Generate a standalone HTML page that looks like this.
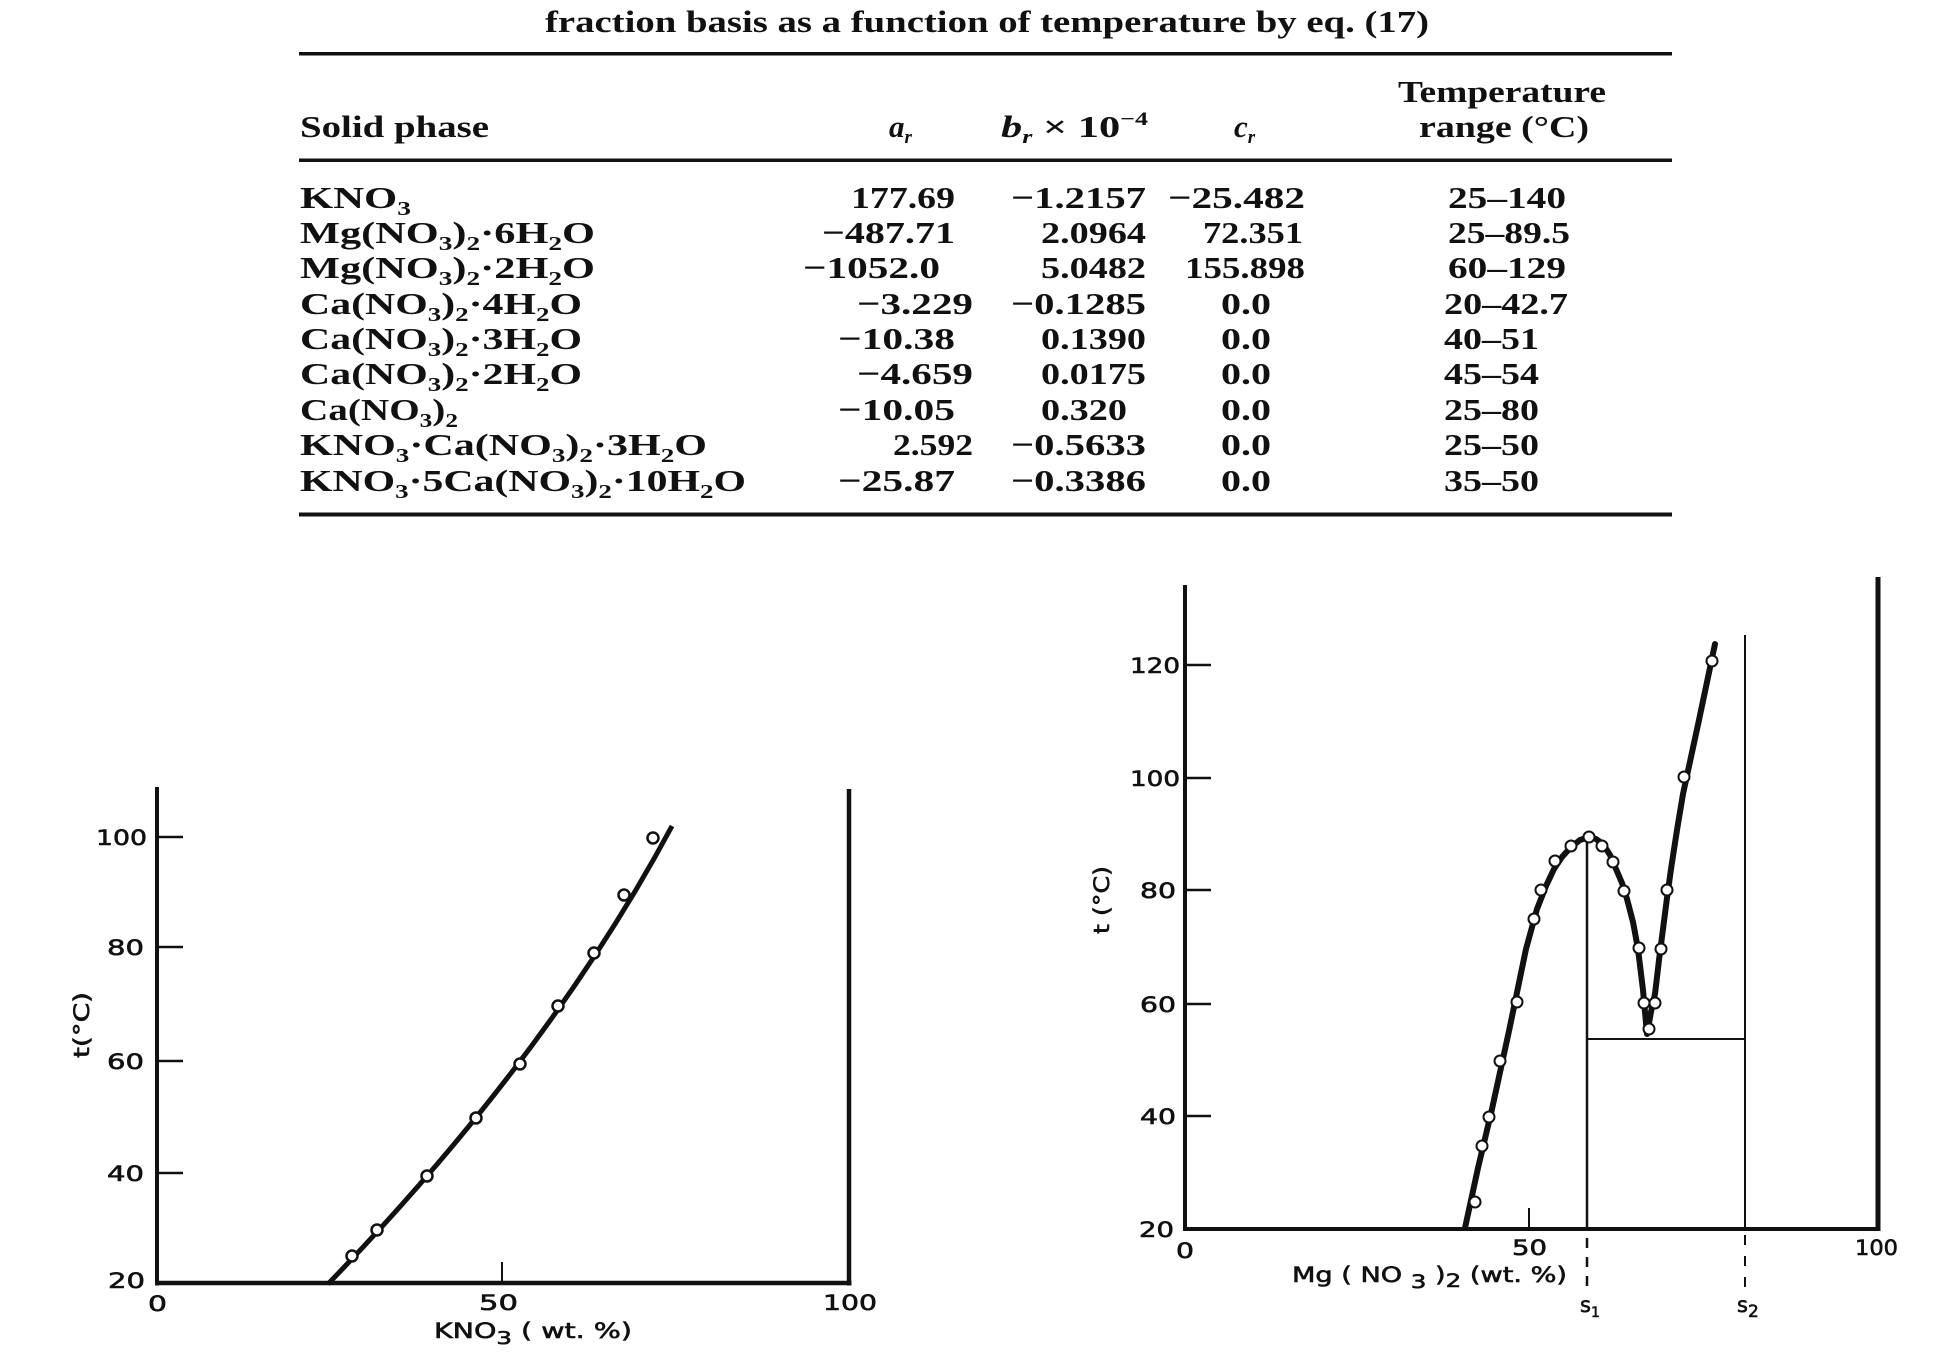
<!DOCTYPE html>
<html>
<head>
<meta charset="utf-8">
<style>
  html,body{margin:0;padding:0;background:#fff;}
  body{width:1945px;height:1352px;overflow:hidden;}
  svg{display:block;}
  .tb{font-family:"Liberation Serif","DejaVu Serif",serif;font-weight:bold;font-size:31px;fill:#111;}
  .ch{font-family:"DejaVu Sans","Liberation Sans",sans-serif;font-size:21px;fill:#111;stroke:#111;stroke-width:0.6;}
</style>
</head>
<body>
<svg width="1945" height="1352" viewBox="0 0 1945 1352" xmlns="http://www.w3.org/2000/svg">
  <rect x="0" y="0" width="1945" height="1352" fill="#fff"/>

  <!-- Title -->
  <text class="tb" x="545" y="32" font-size="28" textLength="884" lengthAdjust="spacingAndGlyphs">fraction basis as a function of temperature by eq. (17)</text>

  <!-- Rules -->
  <rect x="299" y="52" width="1373" height="3.5" fill="#111"/>
  <rect x="299" y="158.5" width="1373" height="3.5" fill="#111"/>
  <rect x="299" y="512.5" width="1373" height="4" fill="#111"/>

  <!-- Header -->
  <text class="tb" x="300" y="137" textLength="189" lengthAdjust="spacingAndGlyphs">Solid phase</text>
  <text class="tb" x="889" y="137" font-style="italic">a<tspan dy="6" font-size="19">r</tspan></text>
  <text class="tb" x="1001" y="137" textLength="147" lengthAdjust="spacingAndGlyphs"><tspan font-style="italic">b</tspan><tspan dy="6" font-size="19" font-style="italic">r</tspan><tspan dy="-6"> × 10</tspan><tspan dy="-12" font-size="19">−4</tspan></text>
  <text class="tb" x="1234" y="137" font-style="italic">c<tspan dy="6" font-size="19">r</tspan></text>
  <text class="tb" x="1398" y="102" textLength="208" lengthAdjust="spacingAndGlyphs">Temperature</text>
  <text class="tb" x="1419" y="137" textLength="170" lengthAdjust="spacingAndGlyphs">range (°C)</text>

  <!-- Rows: solid phase -->
  <text class="tb" x="300" y="208" textLength="111" lengthAdjust="spacingAndGlyphs">KNO<tspan dy="7" font-size="20">3</tspan></text>
  <text class="tb" x="300" y="243" textLength="295" lengthAdjust="spacingAndGlyphs">Mg(NO<tspan dy="7" font-size="20">3</tspan><tspan dy="-7">)</tspan><tspan dy="7" font-size="20">2</tspan><tspan dy="-7">·6H</tspan><tspan dy="7" font-size="20">2</tspan><tspan dy="-7">O</tspan></text>
  <text class="tb" x="300" y="278" textLength="295" lengthAdjust="spacingAndGlyphs">Mg(NO<tspan dy="7" font-size="20">3</tspan><tspan dy="-7">)</tspan><tspan dy="7" font-size="20">2</tspan><tspan dy="-7">·2H</tspan><tspan dy="7" font-size="20">2</tspan><tspan dy="-7">O</tspan></text>
  <text class="tb" x="300" y="314" textLength="282" lengthAdjust="spacingAndGlyphs">Ca(NO<tspan dy="7" font-size="20">3</tspan><tspan dy="-7">)</tspan><tspan dy="7" font-size="20">2</tspan><tspan dy="-7">·4H</tspan><tspan dy="7" font-size="20">2</tspan><tspan dy="-7">O</tspan></text>
  <text class="tb" x="300" y="349" textLength="282" lengthAdjust="spacingAndGlyphs">Ca(NO<tspan dy="7" font-size="20">3</tspan><tspan dy="-7">)</tspan><tspan dy="7" font-size="20">2</tspan><tspan dy="-7">·3H</tspan><tspan dy="7" font-size="20">2</tspan><tspan dy="-7">O</tspan></text>
  <text class="tb" x="300" y="384" textLength="282" lengthAdjust="spacingAndGlyphs">Ca(NO<tspan dy="7" font-size="20">3</tspan><tspan dy="-7">)</tspan><tspan dy="7" font-size="20">2</tspan><tspan dy="-7">·2H</tspan><tspan dy="7" font-size="20">2</tspan><tspan dy="-7">O</tspan></text>
  <text class="tb" x="300" y="420" textLength="158" lengthAdjust="spacingAndGlyphs">Ca(NO<tspan dy="7" font-size="20">3</tspan><tspan dy="-7">)</tspan><tspan dy="7" font-size="20">2</tspan></text>
  <text class="tb" x="300" y="455" textLength="407" lengthAdjust="spacingAndGlyphs">KNO<tspan dy="7" font-size="20">3</tspan><tspan dy="-7">·Ca(NO</tspan><tspan dy="7" font-size="20">3</tspan><tspan dy="-7">)</tspan><tspan dy="7" font-size="20">2</tspan><tspan dy="-7">·3H</tspan><tspan dy="7" font-size="20">2</tspan><tspan dy="-7">O</tspan></text>
  <text class="tb" x="300" y="491" textLength="446" lengthAdjust="spacingAndGlyphs">KNO<tspan dy="7" font-size="20">3</tspan><tspan dy="-7">·5Ca(NO</tspan><tspan dy="7" font-size="20">3</tspan><tspan dy="-7">)</tspan><tspan dy="7" font-size="20">2</tspan><tspan dy="-7">·10H</tspan><tspan dy="7" font-size="20">2</tspan><tspan dy="-7">O</tspan></text>

  <!-- a_r column -->
  <text class="tb" x="851" y="208" textLength="104" lengthAdjust="spacingAndGlyphs">177.69</text>
  <text class="tb" x="822" y="243" textLength="133" lengthAdjust="spacingAndGlyphs">−487.71</text>
  <text class="tb" x="803" y="278" textLength="137" lengthAdjust="spacingAndGlyphs">−1052.0</text>
  <text class="tb" x="857" y="314" textLength="116" lengthAdjust="spacingAndGlyphs">−3.229</text>
  <text class="tb" x="838" y="349" textLength="117" lengthAdjust="spacingAndGlyphs">−10.38</text>
  <text class="tb" x="857" y="384" textLength="116" lengthAdjust="spacingAndGlyphs">−4.659</text>
  <text class="tb" x="838" y="420" textLength="117" lengthAdjust="spacingAndGlyphs">−10.05</text>
  <text class="tb" x="893" y="455" textLength="80" lengthAdjust="spacingAndGlyphs">2.592</text>
  <text class="tb" x="838" y="491" textLength="117" lengthAdjust="spacingAndGlyphs">−25.87</text>

  <!-- b_r column -->
  <text class="tb" x="1011" y="208" textLength="135" lengthAdjust="spacingAndGlyphs">−1.2157</text>
  <text class="tb" x="1041" y="243" textLength="105" lengthAdjust="spacingAndGlyphs">2.0964</text>
  <text class="tb" x="1041" y="278" textLength="105" lengthAdjust="spacingAndGlyphs">5.0482</text>
  <text class="tb" x="1011" y="314" textLength="135" lengthAdjust="spacingAndGlyphs">−0.1285</text>
  <text class="tb" x="1041" y="349" textLength="105" lengthAdjust="spacingAndGlyphs">0.1390</text>
  <text class="tb" x="1041" y="384" textLength="105" lengthAdjust="spacingAndGlyphs">0.0175</text>
  <text class="tb" x="1041" y="420" textLength="86" lengthAdjust="spacingAndGlyphs">0.320</text>
  <text class="tb" x="1011" y="455" textLength="135" lengthAdjust="spacingAndGlyphs">−0.5633</text>
  <text class="tb" x="1011" y="491" textLength="135" lengthAdjust="spacingAndGlyphs">−0.3386</text>

  <!-- c_r column -->
  <text class="tb" x="1168" y="208" textLength="137" lengthAdjust="spacingAndGlyphs">−25.482</text>
  <text class="tb" x="1203" y="243" textLength="100" lengthAdjust="spacingAndGlyphs">72.351</text>
  <text class="tb" x="1185" y="278" textLength="120" lengthAdjust="spacingAndGlyphs">155.898</text>
  <text class="tb" x="1221" y="314" textLength="50" lengthAdjust="spacingAndGlyphs">0.0</text>
  <text class="tb" x="1221" y="349" textLength="50" lengthAdjust="spacingAndGlyphs">0.0</text>
  <text class="tb" x="1221" y="384" textLength="50" lengthAdjust="spacingAndGlyphs">0.0</text>
  <text class="tb" x="1221" y="420" textLength="50" lengthAdjust="spacingAndGlyphs">0.0</text>
  <text class="tb" x="1221" y="455" textLength="50" lengthAdjust="spacingAndGlyphs">0.0</text>
  <text class="tb" x="1221" y="491" textLength="50" lengthAdjust="spacingAndGlyphs">0.0</text>

  <!-- temperature range -->
  <text class="tb" x="1448" y="208" textLength="118" lengthAdjust="spacingAndGlyphs">25–140</text>
  <text class="tb" x="1448" y="243" textLength="122" lengthAdjust="spacingAndGlyphs">25–89.5</text>
  <text class="tb" x="1448" y="278" textLength="118" lengthAdjust="spacingAndGlyphs">60–129</text>
  <text class="tb" x="1444" y="314" textLength="124" lengthAdjust="spacingAndGlyphs">20–42.7</text>
  <text class="tb" x="1444" y="349" textLength="95" lengthAdjust="spacingAndGlyphs">40–51</text>
  <text class="tb" x="1444" y="384" textLength="95" lengthAdjust="spacingAndGlyphs">45–54</text>
  <text class="tb" x="1444" y="420" textLength="95" lengthAdjust="spacingAndGlyphs">25–80</text>
  <text class="tb" x="1444" y="455" textLength="95" lengthAdjust="spacingAndGlyphs">25–50</text>
  <text class="tb" x="1444" y="491" textLength="95" lengthAdjust="spacingAndGlyphs">35–50</text>

  <!-- ================= LEFT CHART ================= -->
  <g stroke="#111" fill="none" stroke-linecap="butt">
    <line x1="157" y1="787" x2="157" y2="1285.5" stroke-width="4"/>
    <line x1="155" y1="1283" x2="851.5" y2="1283" stroke-width="4.5"/>
    <line x1="849" y1="789" x2="849" y2="1285.5" stroke-width="4.5"/>
    <line x1="157" y1="837" x2="183" y2="837" stroke-width="2.5"/>
    <line x1="157" y1="947" x2="183" y2="947" stroke-width="2.5"/>
    <line x1="157" y1="1061" x2="183" y2="1061" stroke-width="2.5"/>
    <line x1="157" y1="1173" x2="183" y2="1173" stroke-width="2.5"/>
    <line x1="502" y1="1262" x2="502" y2="1283" stroke-width="2"/>
    <path d="M328,1284 Q549.6,1055 672,826" stroke-width="5"/>
  </g>
  <g stroke="#111" stroke-width="2.5" fill="#fff">
    <circle cx="352" cy="1256" r="5.5"/>
    <circle cx="377" cy="1230" r="5.5"/>
    <circle cx="427" cy="1176" r="5.5"/>
    <circle cx="476" cy="1118" r="5.5"/>
    <circle cx="520" cy="1064" r="5.5"/>
    <circle cx="558" cy="1006" r="5.5"/>
    <circle cx="594" cy="953" r="5.5"/>
    <circle cx="624" cy="895" r="5.5"/>
    <circle cx="653" cy="838" r="5.5"/>
  </g>
  <text class="ch" x="96" y="845" textLength="51" lengthAdjust="spacingAndGlyphs">100</text>
  <text class="ch" x="107" y="955" textLength="37" lengthAdjust="spacingAndGlyphs">80</text>
  <text class="ch" x="107" y="1069" textLength="37" lengthAdjust="spacingAndGlyphs">60</text>
  <text class="ch" x="107" y="1181" textLength="37" lengthAdjust="spacingAndGlyphs">40</text>
  <text class="ch" x="108" y="1288" textLength="37" lengthAdjust="spacingAndGlyphs">20</text>
  <text class="ch" x="148" y="1311" textLength="19" lengthAdjust="spacingAndGlyphs">0</text>
  <text class="ch" x="479" y="1310" textLength="39" lengthAdjust="spacingAndGlyphs">50</text>
  <text class="ch" x="823" y="1310" textLength="54" lengthAdjust="spacingAndGlyphs">100</text>
  <text class="ch" x="434" y="1338" textLength="198" lengthAdjust="spacingAndGlyphs">KNO<tspan dy="6" font-size="18">3</tspan><tspan dy="-6"> ( wt. %)</tspan></text>
  <text class="ch" font-size="25" transform="translate(89,1058) rotate(-90)" textLength="66" lengthAdjust="spacingAndGlyphs">t(°C)</text>

  <!-- ================= RIGHT CHART ================= -->
  <g stroke="#111" fill="none" stroke-linecap="butt">
    <line x1="1185" y1="585" x2="1185" y2="1231" stroke-width="4"/>
    <line x1="1183" y1="1229" x2="1880.5" y2="1229" stroke-width="4"/>
    <line x1="1878" y1="577" x2="1878" y2="1231" stroke-width="5"/>
    <line x1="1185" y1="665" x2="1211" y2="665" stroke-width="2.5"/>
    <line x1="1185" y1="778" x2="1211" y2="778" stroke-width="2.5"/>
    <line x1="1185" y1="890" x2="1211" y2="890" stroke-width="2.5"/>
    <line x1="1185" y1="1004" x2="1211" y2="1004" stroke-width="2.5"/>
    <line x1="1185" y1="1116" x2="1211" y2="1116" stroke-width="2.5"/>
    <line x1="1529" y1="1208" x2="1529" y2="1229" stroke-width="2"/>
    <line x1="1587" y1="837" x2="1587" y2="1229" stroke-width="2.5"/>
    <line x1="1745" y1="635" x2="1745" y2="1229" stroke-width="2"/>
    <line x1="1587" y1="1039" x2="1745" y2="1039" stroke-width="2"/>
    <line x1="1587" y1="1238" x2="1587" y2="1292" stroke-width="2.5" stroke-dasharray="10,9"/>
    <line x1="1745" y1="1235" x2="1745" y2="1292" stroke-width="2" stroke-dasharray="10,11"/>
    <polyline stroke-width="6" stroke-linejoin="round" stroke-linecap="round" points="1465,1228 1478,1168 1492,1109 1509,1031 1526,949 1537,909 1546,886 1554,869 1562,857 1571,847 1580,840 1589,837 1596,839 1603,844 1610,855 1616,869 1622,883 1627,899 1633,922 1638,949 1643,990 1647,1034 1651,1012 1655,994 1659,960 1663,929 1667,898 1671,869 1677,830 1683,794 1691,757 1699,720 1707,682 1715,644"/>
  </g>
  <g stroke="#111" stroke-width="2" fill="#fff">
    <circle cx="1475" cy="1202" r="5.5"/>
    <circle cx="1482" cy="1146" r="5.5"/>
    <circle cx="1489" cy="1117" r="5.5"/>
    <circle cx="1500" cy="1061" r="5.5"/>
    <circle cx="1517" cy="1002" r="5.5"/>
    <circle cx="1534" cy="919" r="5.5"/>
    <circle cx="1541" cy="890" r="5.5"/>
    <circle cx="1555" cy="861" r="5.5"/>
    <circle cx="1571" cy="846" r="5.5"/>
    <circle cx="1589" cy="837" r="5.5"/>
    <circle cx="1602" cy="846" r="5.5"/>
    <circle cx="1613" cy="862" r="5.5"/>
    <circle cx="1624" cy="891" r="5.5"/>
    <circle cx="1639" cy="948" r="5.5"/>
    <circle cx="1644" cy="1003" r="5.5"/>
    <circle cx="1649" cy="1029" r="5.5"/>
    <circle cx="1655" cy="1003" r="5.5"/>
    <circle cx="1661" cy="949" r="5.5"/>
    <circle cx="1667" cy="890" r="5.5"/>
    <circle cx="1684" cy="777" r="5.5"/>
    <circle cx="1712" cy="661" r="5.5"/>
  </g>
  <text class="ch" x="1130" y="673" textLength="50" lengthAdjust="spacingAndGlyphs">120</text>
  <text class="ch" x="1130" y="786" textLength="50" lengthAdjust="spacingAndGlyphs">100</text>
  <text class="ch" x="1140" y="898" textLength="36" lengthAdjust="spacingAndGlyphs">80</text>
  <text class="ch" x="1140" y="1012" textLength="36" lengthAdjust="spacingAndGlyphs">60</text>
  <text class="ch" x="1140" y="1124" textLength="36" lengthAdjust="spacingAndGlyphs">40</text>
  <text class="ch" x="1139" y="1237" textLength="35" lengthAdjust="spacingAndGlyphs">20</text>
  <text class="ch" x="1176" y="1258" textLength="18" lengthAdjust="spacingAndGlyphs">0</text>
  <text class="ch" x="1512" y="1255" textLength="35" lengthAdjust="spacingAndGlyphs">50</text>
  <text class="ch" x="1855" y="1255" textLength="43" lengthAdjust="spacingAndGlyphs">100</text>
  <text class="ch" x="1292" y="1282" textLength="275" lengthAdjust="spacingAndGlyphs">Mg ( NO <tspan dy="6" font-size="19">3</tspan><tspan dy="-6"> )</tspan><tspan dy="5" font-size="19">2</tspan><tspan dy="-5">  (wt. %)</tspan></text>
  <text class="ch" x="1580" y="1312" font-size="16">s<tspan dy="5" font-size="14">1</tspan></text>
  <text class="ch" x="1737" y="1312" font-size="16">s<tspan dy="5" font-size="17">2</tspan></text>
  <text class="ch" font-size="25" transform="translate(1109,934) rotate(-90)" textLength="68" lengthAdjust="spacingAndGlyphs">t (°C)</text>
</svg>
</body>
</html>
